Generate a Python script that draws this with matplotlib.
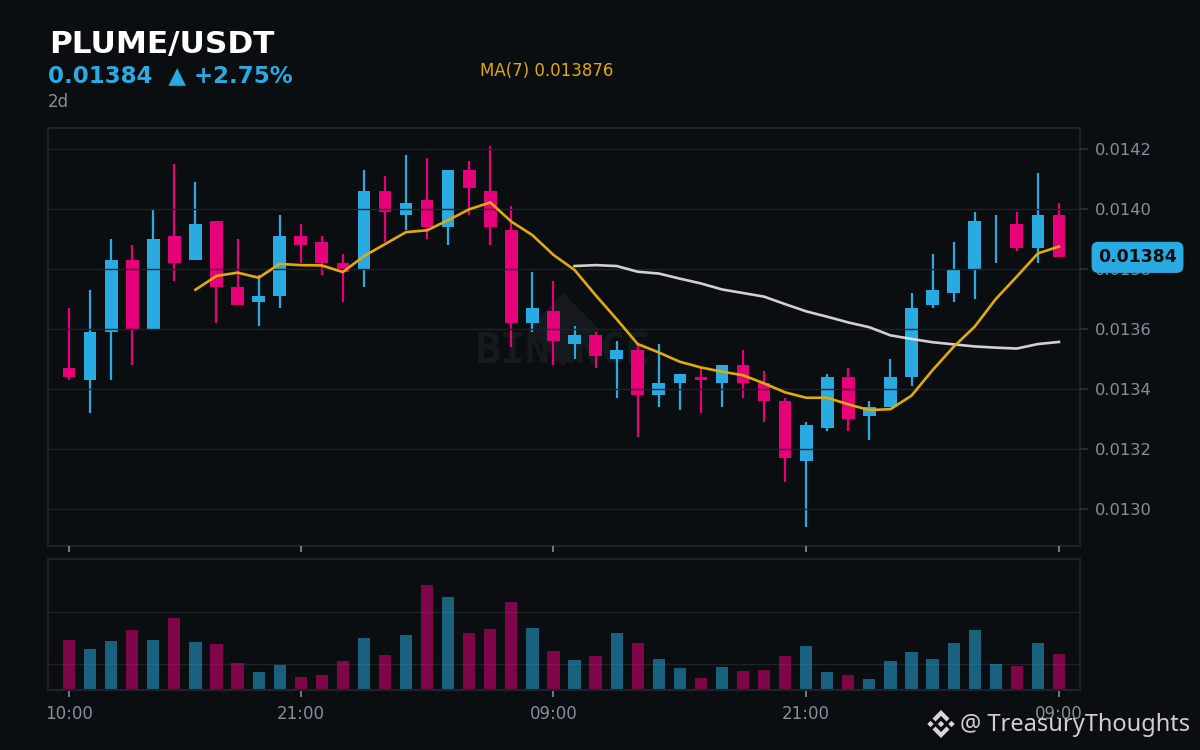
import matplotlib
matplotlib.use("Agg")
import matplotlib.pyplot as plt
from matplotlib.patches import Polygon
from matplotlib.transforms import blended_transform_factory

BG = "#0B0E11"
UP = "#29ABE2"
DOWN = "#E6007A"
GRID = "#1E2329"
TICK = "#848E9C"
GOLD = "#E0A90E"
WHITE_MA = "#E4E6EA"

tick_positions = [0, 11, 23, 35, 47]
tick_labels = ["10:00", "21:00", "09:00", "21:00", "09:00"]
price_ticks = [0.0130, 0.0132, 0.0134, 0.0136, 0.0138, 0.0140, 0.0142]

opens = [0.01347, 0.01343, 0.01359, 0.01383, 0.01360, 0.01391, 0.01383, 0.01396,
         0.01374, 0.01369, 0.01371, 0.01391, 0.01389, 0.01382, 0.01380, 0.01406,
         0.01398, 0.01403, 0.01394, 0.01413, 0.01406, 0.01393, 0.01362, 0.01366,
         0.01355, 0.01358, 0.01350, 0.01353, 0.01338, 0.01342, 0.01344, 0.01342,
         0.01348, 0.01342, 0.01336, 0.01316, 0.01327, 0.01344, 0.01331, 0.01334,
         0.01344, 0.01368, 0.01372, 0.01380, 0.01390, 0.01395, 0.01387, 0.01398]
closes = [0.01344, 0.01359, 0.01383, 0.01360, 0.01390, 0.01382, 0.01395, 0.01374,
          0.01368, 0.01371, 0.01391, 0.01388, 0.01382, 0.01379, 0.01406, 0.01399,
          0.01402, 0.01394, 0.01413, 0.01407, 0.01394, 0.01362, 0.01367, 0.01356,
          0.01358, 0.01351, 0.01353, 0.01338, 0.01342, 0.01345, 0.01343, 0.01348,
          0.01342, 0.01336, 0.01317, 0.01328, 0.01344, 0.01330, 0.01334, 0.01344,
          0.01367, 0.01373, 0.01380, 0.01396, 0.01390, 0.01387, 0.01398, 0.01384]
highs = [0.01367, 0.01373, 0.01390, 0.01388, 0.01400, 0.01415, 0.01409, 0.01396,
         0.01390, 0.01378, 0.01398, 0.01395, 0.01391, 0.01385, 0.01413, 0.01411,
         0.01418, 0.01417, 0.01413, 0.01416, 0.01421, 0.01401, 0.01379, 0.01376,
         0.01361, 0.01359, 0.01356, 0.01355, 0.01355, 0.01345, 0.01347, 0.01348,
         0.01353, 0.01346, 0.01337, 0.01329, 0.01345, 0.01347, 0.01336, 0.01350,
         0.01372, 0.01385, 0.01389, 0.01399, 0.01398, 0.01399, 0.01412, 0.01402]
lows = [0.01343, 0.01332, 0.01343, 0.01348, 0.01360, 0.01376, 0.01383, 0.01362,
        0.01368, 0.01361, 0.01367, 0.01382, 0.01378, 0.01369, 0.01374, 0.01389,
        0.01393, 0.01390, 0.01388, 0.01398, 0.01388, 0.01354, 0.01359, 0.01348,
        0.01350, 0.01347, 0.01337, 0.01324, 0.01334, 0.01333, 0.01332, 0.01334,
        0.01337, 0.01329, 0.01309, 0.01294, 0.01326, 0.01326, 0.01323, 0.01334,
        0.01341, 0.01367, 0.01369, 0.01370, 0.01382, 0.01386, 0.01382, 0.01384]

ma7_start = 6
ma7 = [0.013732, 0.013778, 0.013789, 0.013772, 0.013818, 0.013814, 0.013813,
       0.013791, 0.013844, 0.013884, 0.013924, 0.013930, 0.013964, 0.014000,
       0.014023, 0.013959, 0.013914, 0.013848, 0.013798, 0.013714, 0.013634,
       0.013551, 0.013523, 0.013492, 0.013473, 0.013459, 0.013447, 0.013420,
       0.013390, 0.013372, 0.013372, 0.013350, 0.013331, 0.013334, 0.013379,
       0.013464, 0.013542, 0.013609, 0.013701, 0.013776, 0.013853, 0.013876]
ma25_start = 24
ma25 = [0.013811, 0.013814, 0.013811, 0.013792, 0.013786, 0.013769, 0.013753,
        0.013733, 0.013721, 0.013709, 0.013684, 0.013660, 0.013642, 0.013623,
        0.013607, 0.013580, 0.013568, 0.013557, 0.013550, 0.013543, 0.013539,
        0.013536, 0.013551, 0.013558]

volumes = [148, 121, 145, 178, 148, 214, 142, 136, 79, 52, 73, 37, 43, 85, 154, 103,
           163, 313, 277, 169, 181, 262, 184, 115, 88, 100, 169, 139, 91, 64, 34, 67,
           55, 58, 100, 130, 52, 43, 31, 85, 112, 91, 139, 178, 76, 70, 139, 106]
volume_grid = [75, 231]

W, H = 1200, 750
fig = plt.figure(figsize=(W / 100, H / 100), dpi=100, facecolor=BG)
plt.rcParams["font.family"] = ["DejaVu Sans"]


def box(left, top, right, bottom):
    return [left / W, 1 - bottom / H, (right - left) / W, (bottom - top) / H]


ax = fig.add_axes(box(48, 128, 1080, 546), facecolor=BG)
vax = fig.add_axes(box(48, 559, 1080, 690), facecolor=BG)


def fp(x, y):
    return (x / W, 1 - y / H)


n = len(opens)
xs = list(range(n))
colors = [UP if c >= o else DOWN for o, c in zip(opens, closes)]
bottoms = [min(o, c) for o, c in zip(opens, closes)]
heights = [abs(c - o) for o, c in zip(opens, closes)]

# watermark
ax.add_patch(Polygon([fp(563, 293), fp(600, 330), fp(563, 366), fp(527, 330)],
                     closed=True, transform=fig.transFigure, facecolor="#15191D",
                     edgecolor="none", zorder=0.4))
ax.text(563.5 / W, 1 - 351 / H, "BINANCE", transform=fig.transFigure, family="DejaVu Sans Mono",
        fontweight="bold", fontsize=30, color="#151A1E", ha="center", va="center", zorder=0.5)

ax.vlines(xs, lows, highs, colors=colors, linewidth=1.6, zorder=1.5)
ax.bar(xs, heights, bottom=bottoms, width=0.6, color=colors, linewidth=0, zorder=2)
ax.plot(range(ma25_start, n), ma25, color=WHITE_MA, linewidth=1.9, alpha=0.9, zorder=3)
ax.plot(range(ma7_start, n), ma7, color=GOLD, linewidth=1.9, zorder=3.1)

ax.set_xlim(-1, 48)
ax.set_ylim(0.012878, 0.014271)
ax.set_yticks(price_ticks)
ax.set_yticklabels([f"{p:.4f}" for p in price_ticks])
ax.set_xticks(tick_positions)
ax.set_xticklabels([])
ax.yaxis.tick_right()
ax.set_axisbelow(False)
ax.grid(axis="y", color=GRID, linewidth=1.0)
ax.grid(axis="x", visible=False)
ax.tick_params(axis="y", colors=TICK, labelsize=11.7, length=6, width=1.2, color="#2B3139", pad=5)
ax.tick_params(axis="x", colors=TICK, length=4, width=1.2, direction="out")

# volume panel
vax.bar(xs, volumes, width=0.58, color=colors, alpha=0.53, linewidth=0, zorder=2)
vax.set_xlim(-1, 48)
vax.set_ylim(-2, 391)
vax.set_yticks(volume_grid)
vax.set_yticklabels([])
vax.set_xticks(tick_positions)
vax.set_xticklabels(tick_labels)
vax.set_axisbelow(True)
vax.grid(axis="y", color=GRID, linewidth=1.0)
vax.tick_params(axis="y", length=0)
vax.tick_params(axis="x", colors=TICK, labelsize=12, length=5, width=1.2, pad=6)

for a in (ax, vax):
    for s in a.spines.values():
        s.set_color(GRID)
        s.set_linewidth(1.5)

# header
fig.text(49 / W, 1 - 44 / H, "PLUME/USDT", color="white", fontsize=22.4, fontweight="bold", va="center")
fig.text(48 / W, 1 - 76 / H, "0.01384  ▲ +2.75%", color=UP, fontsize=16.5, fontweight="bold", va="center")
fig.text(48 / W, 1 - 102 / H, "2d", color=TICK, fontsize=12, va="center")
fig.text(480 / W, 1 - 71 / H, "MA(7) 0.013876", color=GOLD, fontsize=12, va="center")

# last-price tag
tag_tr = blended_transform_factory(fig.transFigure, ax.transData)
ax.text(1137.5 / W, closes[-1], f"{closes[-1]:.5f}", transform=tag_tr, ha="center", va="center",
        color=BG, fontsize=12.4, fontweight="bold", clip_on=False, zorder=10,
        bbox=dict(boxstyle="round,pad=0.34,rounding_size=0.35", facecolor=UP, edgecolor=UP, linewidth=1))

# footer brand
logo = "#D6D6D6"
cx, cy = 941, 724
chevron = [(0, -14), (8.5, -5.5), (5.5, -2.5), (0, -8), (-5.5, -2.5), (-8.5, -5.5)]
for sign in (1, -1):
    fig.patches.append(Polygon([fp(cx + dx, cy + sign * dy) for dx, dy in chevron],
                               closed=True, transform=fig.transFigure, facecolor=logo, edgecolor="none"))
for dx in (-10.5, 0, 10.5):
    r = 3.2
    fig.patches.append(Polygon([fp(cx + dx, cy - r), fp(cx + dx + r, cy),
                                fp(cx + dx, cy + r), fp(cx + dx - r, cy)],
                               closed=True, transform=fig.transFigure, facecolor=logo, edgecolor="none"))
fig.text(960 / W, 1 - 725 / H, "@ TreasuryThoughts", color="#CFCFCF", fontsize=17,
         family="Noto Sans", va="center")

fig.savefig("out.png", dpi=100, facecolor=BG)
